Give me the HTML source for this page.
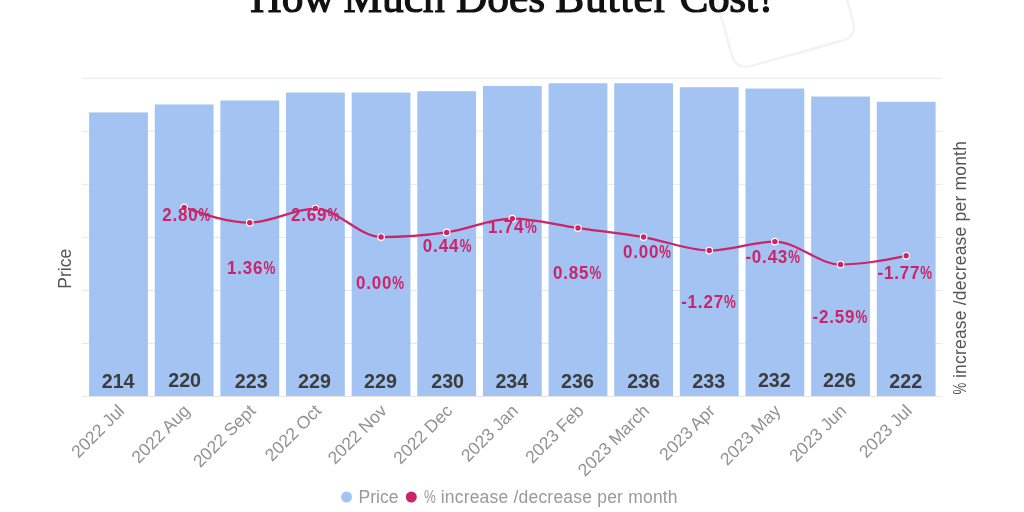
<!DOCTYPE html>
<html><head><meta charset="utf-8"><style>
html,body{margin:0;padding:0;background:#fff;width:1024px;height:512px;overflow:hidden;position:relative;font-family:"Liberation Sans",sans-serif;}
</style></head><body>
<svg width="1024" height="512" viewBox="0 0 1024 512" style="position:absolute;left:0;top:0;will-change:transform">
<g transform="translate(796.6,53.3) rotate(-15.5)"><rect x="-62.9" y="-157" width="125.8" height="157" rx="14" ry="14" fill="none" stroke="#f2f2f2" stroke-width="2.4"/></g>
<text x="250.3" y="12.35" font-family="Liberation Serif, serif" font-size="43.4" letter-spacing="0" fill="#111" stroke="#111" stroke-width="1.2">How</text>
<text x="343.4" y="12.35" font-family="Liberation Serif, serif" font-size="43.4" letter-spacing="0" fill="#111" stroke="#111" stroke-width="1.2">Much</text>
<text x="456.0" y="12.35" font-family="Liberation Serif, serif" font-size="43.4" letter-spacing="0" fill="#111" stroke="#111" stroke-width="1.2">Does</text>
<text x="555.15" y="12.35" font-family="Liberation Serif, serif" font-size="43.4" letter-spacing="0.9" fill="#111" stroke="#111" stroke-width="1.2">Butter</text>
<text x="679.4" y="12.35" font-family="Liberation Serif, serif" font-size="43.4" letter-spacing="-0.4" fill="#111" stroke="#111" stroke-width="1.2">Cost?</text>
<rect x="82" y="77.70" width="860.30" height="1" fill="#e6e6e6"/>
<rect x="82" y="130.75" width="860.30" height="1" fill="#e6e6e6"/>
<rect x="82" y="183.80" width="860.30" height="1" fill="#e6e6e6"/>
<rect x="82" y="236.85" width="860.30" height="1" fill="#e6e6e6"/>
<rect x="82" y="289.90" width="860.30" height="1" fill="#e6e6e6"/>
<rect x="82" y="342.95" width="860.30" height="1" fill="#e6e6e6"/>
<rect x="82" y="396.00" width="860.30" height="1" fill="#e6e6e6"/>
<rect x="89.10" y="112.43" width="58.8" height="283.57" fill="#a3c4f3"/>
<rect x="154.74" y="104.47" width="58.8" height="291.53" fill="#a3c4f3"/>
<rect x="220.38" y="100.49" width="58.8" height="295.51" fill="#a3c4f3"/>
<rect x="286.02" y="92.53" width="58.8" height="303.47" fill="#a3c4f3"/>
<rect x="351.66" y="92.53" width="58.8" height="303.47" fill="#a3c4f3"/>
<rect x="417.30" y="91.20" width="58.8" height="304.80" fill="#a3c4f3"/>
<rect x="482.94" y="85.90" width="58.8" height="310.10" fill="#a3c4f3"/>
<rect x="548.58" y="83.25" width="58.8" height="312.75" fill="#a3c4f3"/>
<rect x="614.22" y="83.25" width="58.8" height="312.75" fill="#a3c4f3"/>
<rect x="679.86" y="87.23" width="58.8" height="308.77" fill="#a3c4f3"/>
<rect x="745.50" y="88.55" width="58.8" height="307.45" fill="#a3c4f3"/>
<rect x="811.14" y="96.51" width="58.8" height="299.49" fill="#a3c4f3"/>
<rect x="876.78" y="101.82" width="58.8" height="294.18" fill="#a3c4f3"/>
<text x="118.15" y="388.20" text-anchor="middle" font-family="Liberation Sans, sans-serif" font-weight="bold" font-size="19.7" fill="#3d3d3d">214</text>
<text x="184.64" y="387.00" text-anchor="middle" font-family="Liberation Sans, sans-serif" font-weight="bold" font-size="19.7" fill="#3d3d3d">220</text>
<text x="251.23" y="388.20" text-anchor="middle" font-family="Liberation Sans, sans-serif" font-weight="bold" font-size="19.7" fill="#3d3d3d">223</text>
<text x="314.42" y="388.20" text-anchor="middle" font-family="Liberation Sans, sans-serif" font-weight="bold" font-size="19.7" fill="#3d3d3d">229</text>
<text x="380.51" y="388.20" text-anchor="middle" font-family="Liberation Sans, sans-serif" font-weight="bold" font-size="19.7" fill="#3d3d3d">229</text>
<text x="447.65" y="388.20" text-anchor="middle" font-family="Liberation Sans, sans-serif" font-weight="bold" font-size="19.7" fill="#3d3d3d">230</text>
<text x="511.84" y="388.20" text-anchor="middle" font-family="Liberation Sans, sans-serif" font-weight="bold" font-size="19.7" fill="#3d3d3d">234</text>
<text x="577.48" y="388.20" text-anchor="middle" font-family="Liberation Sans, sans-serif" font-weight="bold" font-size="19.7" fill="#3d3d3d">236</text>
<text x="643.57" y="388.20" text-anchor="middle" font-family="Liberation Sans, sans-serif" font-weight="bold" font-size="19.7" fill="#3d3d3d">236</text>
<text x="708.76" y="388.20" text-anchor="middle" font-family="Liberation Sans, sans-serif" font-weight="bold" font-size="19.7" fill="#3d3d3d">233</text>
<text x="774.35" y="387.00" text-anchor="middle" font-family="Liberation Sans, sans-serif" font-weight="bold" font-size="19.7" fill="#3d3d3d">232</text>
<text x="839.54" y="387.00" text-anchor="middle" font-family="Liberation Sans, sans-serif" font-weight="bold" font-size="19.7" fill="#3d3d3d">226</text>
<text x="905.68" y="388.20" text-anchor="middle" font-family="Liberation Sans, sans-serif" font-weight="bold" font-size="19.7" fill="#3d3d3d">222</text>
<path d="M184.14,207.37 C206.02,215.00 227.90,222.63 249.78,222.63 C271.66,222.63 293.54,208.54 315.42,208.54 C337.30,208.54 359.18,237.05 381.06,237.05 C402.94,237.05 424.82,235.46 446.70,232.39 C468.58,229.31 490.46,218.61 512.34,218.61 C534.22,218.61 556.10,224.97 577.98,228.04 C599.86,231.11 621.74,233.30 643.62,237.05 C665.50,240.80 687.38,250.51 709.26,250.51 C731.14,250.51 753.02,241.61 774.90,241.61 C796.78,241.61 818.66,264.50 840.54,264.50 C862.42,264.50 884.30,260.16 906.18,255.81" fill="none" stroke="#cc2468" stroke-width="2.2" stroke-linejoin="round" stroke-linecap="round"/>
<circle cx="184.14" cy="207.37" r="3.3" fill="#cc2468" stroke="#fff" stroke-width="1.15"/>
<circle cx="249.78" cy="222.63" r="3.3" fill="#cc2468" stroke="#fff" stroke-width="1.15"/>
<circle cx="315.42" cy="208.54" r="3.3" fill="#cc2468" stroke="#fff" stroke-width="1.15"/>
<circle cx="381.06" cy="237.05" r="3.3" fill="#cc2468" stroke="#fff" stroke-width="1.15"/>
<circle cx="446.70" cy="232.39" r="3.3" fill="#cc2468" stroke="#fff" stroke-width="1.15"/>
<circle cx="512.34" cy="218.61" r="3.3" fill="#cc2468" stroke="#fff" stroke-width="1.15"/>
<circle cx="577.98" cy="228.04" r="3.3" fill="#cc2468" stroke="#fff" stroke-width="1.15"/>
<circle cx="643.62" cy="237.05" r="3.3" fill="#cc2468" stroke="#fff" stroke-width="1.15"/>
<circle cx="709.26" cy="250.51" r="3.3" fill="#cc2468" stroke="#fff" stroke-width="1.15"/>
<circle cx="774.90" cy="241.61" r="3.3" fill="#cc2468" stroke="#fff" stroke-width="1.15"/>
<circle cx="840.54" cy="264.50" r="3.3" fill="#cc2468" stroke="#fff" stroke-width="1.15"/>
<circle cx="906.18" cy="255.81" r="3.3" fill="#cc2468" stroke="#fff" stroke-width="1.15"/>
<text transform="translate(162.21,221.40) scale(1,1.045)" font-family="Liberation Sans, sans-serif" font-weight="bold" font-size="17" letter-spacing="0.8" fill="#cc2468">2.80</text>
<text transform="translate(198.56,221.40) scale(0.78,1.045)" font-family="Liberation Sans, sans-serif" font-weight="bold" font-size="17" fill="#cc2468">%</text>
<text transform="translate(227.02,274.40) scale(1,1.045)" font-family="Liberation Sans, sans-serif" font-weight="bold" font-size="17" letter-spacing="0.8" fill="#cc2468">1.36</text>
<text transform="translate(263.47,274.40) scale(0.78,1.045)" font-family="Liberation Sans, sans-serif" font-weight="bold" font-size="17" fill="#cc2468">%</text>
<text transform="translate(291.07,221.40) scale(1,1.045)" font-family="Liberation Sans, sans-serif" font-weight="bold" font-size="17" letter-spacing="0.8" fill="#cc2468">2.69</text>
<text transform="translate(327.50,221.40) scale(0.78,1.045)" font-family="Liberation Sans, sans-serif" font-weight="bold" font-size="17" fill="#cc2468">%</text>
<text transform="translate(355.96,289.00) scale(1,1.045)" font-family="Liberation Sans, sans-serif" font-weight="bold" font-size="17" letter-spacing="0.8" fill="#cc2468">0.00</text>
<text transform="translate(392.32,289.00) scale(0.78,1.045)" font-family="Liberation Sans, sans-serif" font-weight="bold" font-size="17" fill="#cc2468">%</text>
<text transform="translate(422.86,252.30) scale(1,1.045)" font-family="Liberation Sans, sans-serif" font-weight="bold" font-size="17" letter-spacing="0.8" fill="#cc2468">0.44</text>
<text transform="translate(459.83,252.30) scale(0.78,1.045)" font-family="Liberation Sans, sans-serif" font-weight="bold" font-size="17" fill="#cc2468">%</text>
<text transform="translate(487.96,232.90) scale(1,1.045)" font-family="Liberation Sans, sans-serif" font-weight="bold" font-size="17" letter-spacing="0.8" fill="#cc2468">1.74</text>
<text transform="translate(524.93,232.90) scale(0.78,1.045)" font-family="Liberation Sans, sans-serif" font-weight="bold" font-size="17" fill="#cc2468">%</text>
<text transform="translate(552.95,279.40) scale(1,1.045)" font-family="Liberation Sans, sans-serif" font-weight="bold" font-size="17" letter-spacing="0.8" fill="#cc2468">0.85</text>
<text transform="translate(589.54,279.40) scale(0.78,1.045)" font-family="Liberation Sans, sans-serif" font-weight="bold" font-size="17" fill="#cc2468">%</text>
<text transform="translate(622.96,258.00) scale(1,1.045)" font-family="Liberation Sans, sans-serif" font-weight="bold" font-size="17" letter-spacing="0.8" fill="#cc2468">0.00</text>
<text transform="translate(659.32,258.00) scale(0.78,1.045)" font-family="Liberation Sans, sans-serif" font-weight="bold" font-size="17" fill="#cc2468">%</text>
<text transform="translate(681.16,308.00) scale(1,1.045)" font-family="Liberation Sans, sans-serif" font-weight="bold" font-size="17" letter-spacing="0.8" fill="#cc2468">-1.27</text>
<text transform="translate(723.93,308.00) scale(0.78,1.045)" font-family="Liberation Sans, sans-serif" font-weight="bold" font-size="17" fill="#cc2468">%</text>
<text transform="translate(745.40,263.00) scale(1,1.045)" font-family="Liberation Sans, sans-serif" font-weight="bold" font-size="17" letter-spacing="0.8" fill="#cc2468">-0.43</text>
<text transform="translate(788.30,263.00) scale(0.78,1.045)" font-family="Liberation Sans, sans-serif" font-weight="bold" font-size="17" fill="#cc2468">%</text>
<text transform="translate(812.50,323.10) scale(1,1.045)" font-family="Liberation Sans, sans-serif" font-weight="bold" font-size="17" letter-spacing="0.8" fill="#cc2468">-2.59</text>
<text transform="translate(855.39,323.10) scale(0.78,1.045)" font-family="Liberation Sans, sans-serif" font-weight="bold" font-size="17" fill="#cc2468">%</text>
<text transform="translate(877.56,279.00) scale(1,1.045)" font-family="Liberation Sans, sans-serif" font-weight="bold" font-size="17" letter-spacing="0.8" fill="#cc2468">-1.77</text>
<text transform="translate(920.33,279.00) scale(0.78,1.045)" font-family="Liberation Sans, sans-serif" font-weight="bold" font-size="17" fill="#cc2468">%</text>
<text transform="translate(125.30,411.90) rotate(-45)" text-anchor="end" font-family="Liberation Sans, sans-serif" font-size="17.5" fill="#929292">2022 Jul</text>
<text transform="translate(190.94,411.90) rotate(-45)" text-anchor="end" font-family="Liberation Sans, sans-serif" font-size="17.5" fill="#929292">2022 Aug</text>
<text transform="translate(256.58,411.90) rotate(-45)" text-anchor="end" font-family="Liberation Sans, sans-serif" font-size="17.5" fill="#929292">2022 Sept</text>
<text transform="translate(322.22,411.90) rotate(-45)" text-anchor="end" font-family="Liberation Sans, sans-serif" font-size="17.5" fill="#929292">2022 Oct</text>
<text transform="translate(387.86,411.90) rotate(-45)" text-anchor="end" font-family="Liberation Sans, sans-serif" font-size="17.5" fill="#929292">2022 Nov</text>
<text transform="translate(453.50,411.90) rotate(-45)" text-anchor="end" font-family="Liberation Sans, sans-serif" font-size="17.5" fill="#929292">2022 Dec</text>
<text transform="translate(519.14,411.90) rotate(-45)" text-anchor="end" font-family="Liberation Sans, sans-serif" font-size="17.5" fill="#929292">2023 Jan</text>
<text transform="translate(584.78,411.90) rotate(-45)" text-anchor="end" font-family="Liberation Sans, sans-serif" font-size="17.5" fill="#929292">2023 Feb</text>
<text transform="translate(650.42,411.90) rotate(-45)" text-anchor="end" font-family="Liberation Sans, sans-serif" font-size="17.5" fill="#929292">2023 March</text>
<text transform="translate(716.06,411.90) rotate(-45)" text-anchor="end" font-family="Liberation Sans, sans-serif" font-size="17.5" fill="#929292">2023 Apr</text>
<text transform="translate(781.70,411.90) rotate(-45)" text-anchor="end" font-family="Liberation Sans, sans-serif" font-size="17.5" fill="#929292">2023 May</text>
<text transform="translate(847.34,411.90) rotate(-45)" text-anchor="end" font-family="Liberation Sans, sans-serif" font-size="17.5" fill="#929292">2023 Jun</text>
<text transform="translate(912.98,411.90) rotate(-45)" text-anchor="end" font-family="Liberation Sans, sans-serif" font-size="17.5" fill="#929292">2023 Jul</text>
<text transform="translate(71.1,268.8) rotate(-90)" text-anchor="middle" font-family="Liberation Sans, sans-serif" font-size="17.5" fill="#555">Price</text>
<text transform="translate(965.7,394.6) rotate(-90) scale(0.76,1)" font-family="Liberation Sans, sans-serif" font-size="17.5" fill="#555">%</text>
<text transform="translate(965.7,378.0) rotate(-90)" font-family="Liberation Sans, sans-serif" font-size="17.5" letter-spacing="0.2" fill="#555">increase /decrease per month</text>
<circle cx="346.5" cy="497" r="5.5" fill="#a3c4f3"/>
<text x="358.6" y="503" font-family="Liberation Sans, sans-serif" font-size="17.5" fill="#999">Price</text>
<circle cx="411.3" cy="497" r="5.5" fill="#cc2468"/>
<text transform="translate(424,503) scale(0.76,1)" font-family="Liberation Sans, sans-serif" font-size="17.5" fill="#999">%</text>
<text x="440.7" y="503" font-family="Liberation Sans, sans-serif" font-size="17.5" letter-spacing="0.2" fill="#999">increase /decrease per month</text>
</svg>
</body></html>
